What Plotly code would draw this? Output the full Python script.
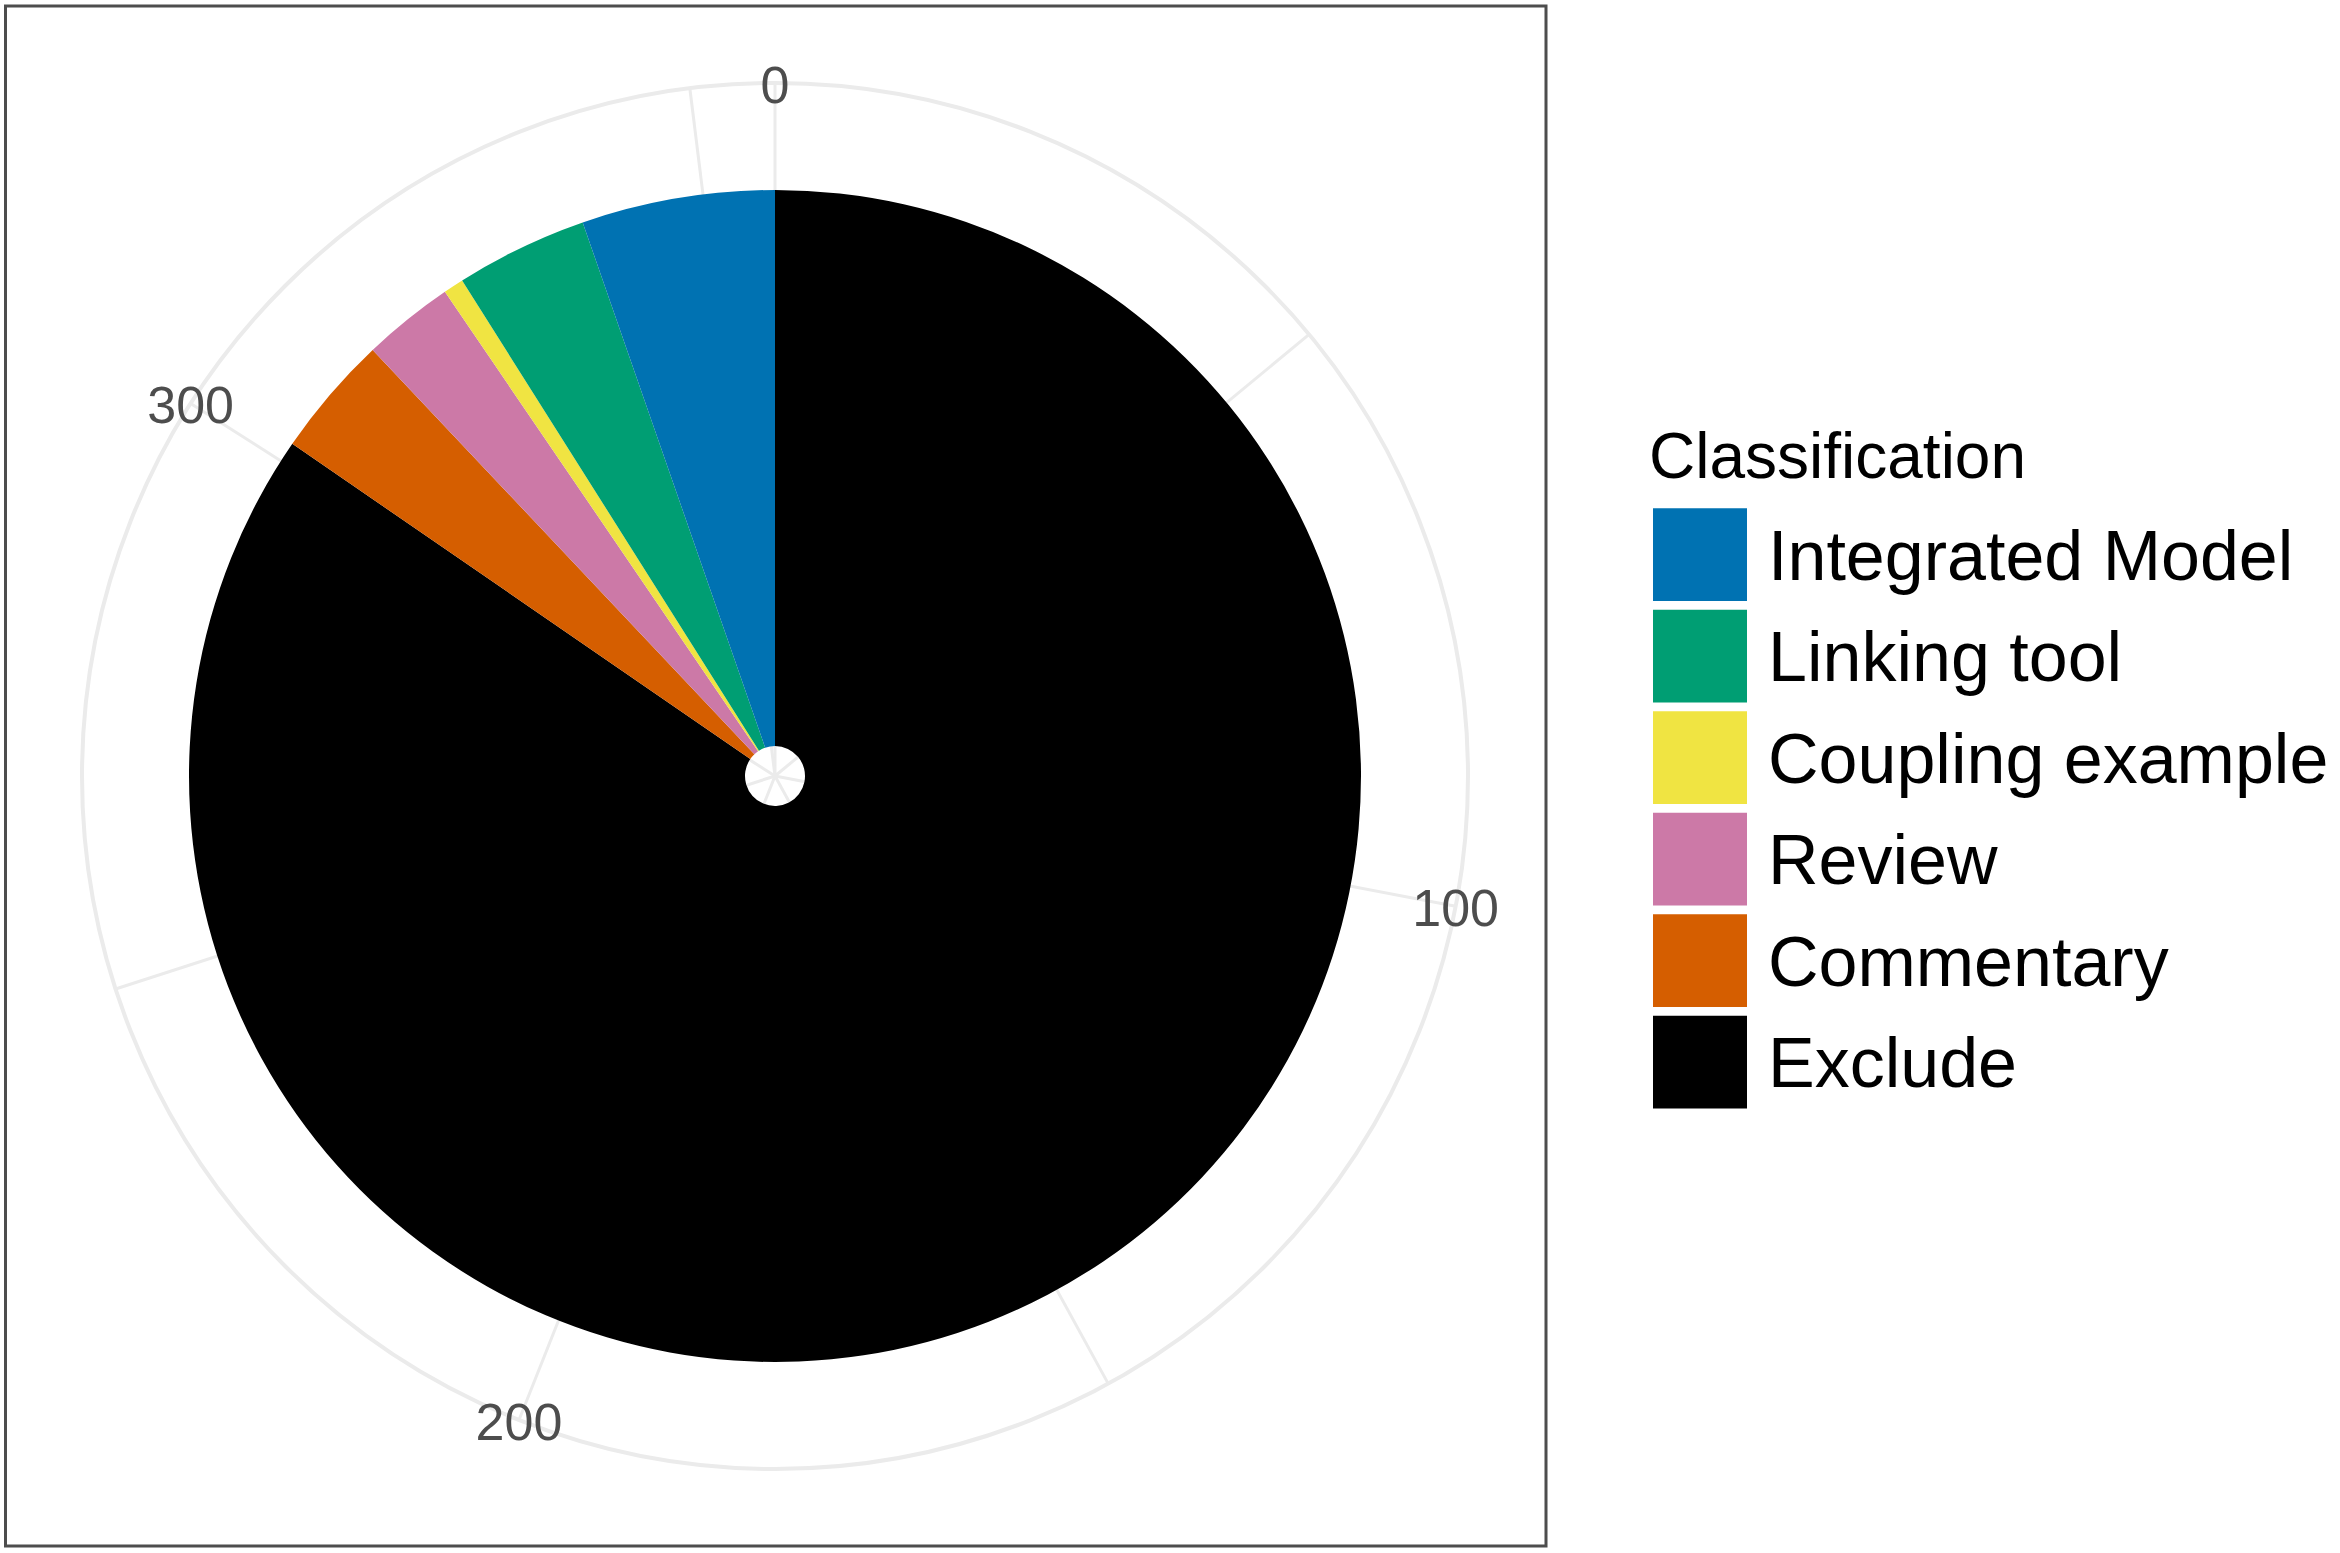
import math
import plotly.graph_objects as go

# ---- data ----
categories = ["Integrated Model", "Linking tool", "Coupling example", "Review", "Commentary", "Exclude"]
counts = [19, 13, 2, 9, 12, 302]
colors = ["#0072B2", "#009E73", "#F0E442", "#CC79A7", "#D55E00", "#000000"]
tick_values = [0, 100, 200, 300]
minor_values = [50, 150, 250, 350]

# ---- layout constants (pixels in the reference image) ----
W, H = 2340, 1553
CX, CY = 775, 776
R_GRID = 693
R_PIE = 586
R_HOLE = 30
LABEL_DROP = 7      # small downward nudge of the theta labels, pixels
LABEL_SPACE = 1.1   # radial room of the (invisible) label layer
FONT = "Liberation Sans, Arial, Helvetica"


def px_x(x):
    return x / W


def px_y(y):
    return 1 - y / H


def domain(radius):
    return dict(x=[px_x(CX - radius), px_x(CX + radius)],
                y=[px_y(CY + radius), px_y(CY - radius)])


total = sum(counts)
deg = 360.0 / total

# stacking order clockwise from 0: Exclude first, then the rest in reverse legend order
order = list(range(len(categories)))[::-1]

fig = go.Figure()
start = 0
for i in order:
    n = counts[i]
    fig.add_trace(go.Barpolar(
        r=[(R_PIE - R_HOLE) / R_GRID],
        base=[R_HOLE / R_GRID],
        theta=[(start + n / 2) * deg],
        width=[n * deg],
        marker=dict(color=colors[i], line=dict(width=0)),
        name=categories[i],
        showlegend=False,
        subplot="polar",
    ))
    start += n

# theta tick labels sitting on the outer circle (nudged slightly down)
lab_r, lab_t = [], []
for v in tick_values:
    a = math.radians(v * deg)
    dx = R_GRID * math.sin(a)
    dy = -R_GRID * math.cos(a) + LABEL_DROP  # screen coords, y down
    lab_r.append(math.hypot(dx, dy) / R_GRID)
    lab_t.append(math.degrees(math.atan2(dx, -dy)) % 360)

fig.add_trace(go.Scatterpolar(
    r=lab_r,
    theta=lab_t,
    text=[str(v) for v in tick_values],
    mode="text",
    textfont=dict(family=FONT, size=52, color="#4D4D4D"),
    textposition="middle center",
    cliponaxis=False,
    showlegend=False,
    hoverinfo="skip",
    subplot="polar2",
))

grid_vals = sorted(tick_values + minor_values)

fig.update_layout(
    width=W, height=H,
    margin=dict(l=0, r=0, t=0, b=0),
    paper_bgcolor="white",
    plot_bgcolor="white",
    showlegend=False,
    polar=dict(
        domain=domain(R_GRID),
        bgcolor="white",
        hole=0,
        radialaxis=dict(range=[0, 1], visible=False, showgrid=False),
        angularaxis=dict(
            rotation=90,
            direction="clockwise",
            tickmode="array",
            tickvals=[v * deg for v in grid_vals],
            showticklabels=False,
            ticks="",
            showgrid=True,
            gridcolor="#EBEBEB",
            gridwidth=2.5,
            showline=True,
            linecolor="#EBEBEB",
            linewidth=4,
        ),
        barmode="overlay",
    ),
    polar2=dict(
        domain=domain(R_GRID * LABEL_SPACE),
        bgcolor="rgba(0,0,0,0)",
        radialaxis=dict(range=[0, LABEL_SPACE], visible=False, showgrid=False),
        angularaxis=dict(
            rotation=90,
            direction="clockwise",
            showticklabels=False,
            ticks="",
            showgrid=False,
            showline=False,
        ),
    ),
)

shapes = []
annotations = []

# panel border
shapes.append(dict(type="rect", xref="paper", yref="paper",
                   x0=px_x(5.5), x1=px_x(1546), y0=px_y(1546), y1=px_y(6),
                   line=dict(color="#4D4D4D", width=3), fillcolor="rgba(0,0,0,0)"))

# legend
KEY_X0, KEY_X1 = 1653, 1747
KEY_TOP0, KEY_H, KEY_PITCH = 508.3, 92.7, 101.5
TEXT_X = 1766

annotations.append(dict(
    x=px_x(1647), y=px_y(456), xref="paper", yref="paper",
    xanchor="left", yanchor="middle", showarrow=False,
    text="Classification",
    font=dict(family=FONT, size=64, color="black"),
))

for k, (cat, col) in enumerate(zip(categories, colors)):
    top = KEY_TOP0 + k * KEY_PITCH
    shapes.append(dict(type="rect", xref="paper", yref="paper",
                       x0=px_x(KEY_X0), x1=px_x(KEY_X1),
                       y0=px_y(top + KEY_H), y1=px_y(top),
                       line=dict(width=0), fillcolor=col))
    annotations.append(dict(
        x=px_x(TEXT_X), y=px_y(top + KEY_H / 2 + 1), xref="paper", yref="paper",
        xanchor="left", yanchor="middle", showarrow=False,
        text=cat,
        font=dict(family=FONT, size=70, color="black"),
    ))

fig.update_layout(shapes=shapes, annotations=annotations)

fig.write_html(
    "out.html",
    config={"displayModeBar": False},
    post_script="document.body.style.margin='0px';document.body.style.overflow='hidden';",
)
